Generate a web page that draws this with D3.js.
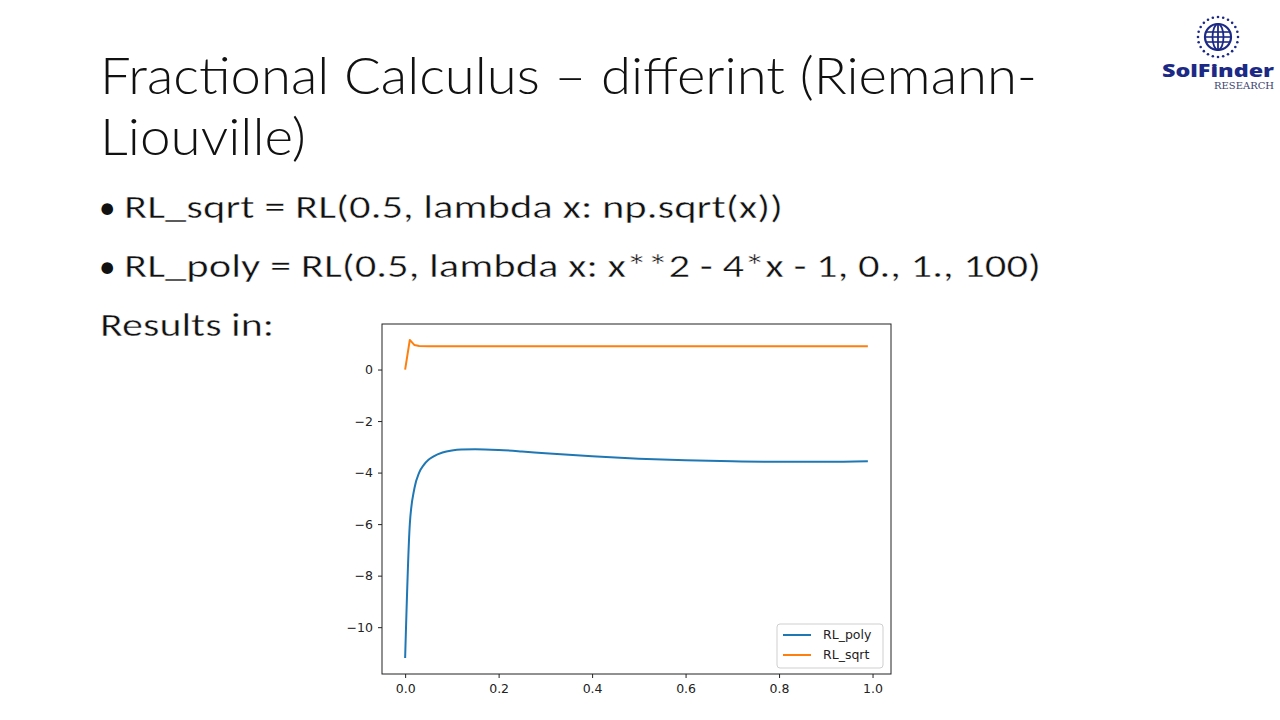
<!DOCTYPE html>
<html>
<head>
<meta charset="utf-8">
<script src="https://cdn.jsdelivr.net/npm/d3@7"></script>
<style>
  body { margin: 0; background: #fff; }
  svg { display: block; }
</style>
</head>
<body>
<svg width="1280" height="720"></svg>
<script>
// slide text
var titleLines = ["Fractional Calculus \u2013 differint (Riemann-", "Liouville)"];
var bullets = ["RL_sqrt = RL(0.5, lambda x: np.sqrt(x))", "RL_poly = RL(0.5, lambda x: x**2 - 4*x - 1, 0., 1., 100)"];
var resultsLabel = "Results in:";

// series
var polyX = [0, 0.01, 0.02, 0.03, 0.04, 0.05, 0.06, 0.08, 0.10, 0.12, 0.15, 0.20, 0.25, 0.30, 0.40, 0.50, 0.60, 0.70, 0.80, 0.90, 0.99];
var polyY = [-11.2, -6.0, -4.6, -4.0, -3.7, -3.5, -3.38, -3.22, -3.14, -3.1, -3.09, -3.12, -3.18, -3.25, -3.37, -3.46, -3.52, -3.56, -3.58, -3.58, -3.56];
var sqrtX = [0, 0.01, 0.02, 0.03, 0.05, 0.10, 0.30, 0.60, 0.99];
var sqrtY = [0, 1.15, 0.95, 0.915, 0.905, 0.9, 0.9, 0.9, 0.9];

var xTicks = [0, 0.2, 0.4, 0.6, 0.8, 1.0];
var yTicks = [0, -2, -4, -6, -8, -10];
var seriesNames = ["RL_poly", "RL_sqrt"];
var seriesColors = ["#1f77b4", "#ff7f0e"];

var svg = d3.select("svg");

/* ----------- slide text ----------- */
var body = "Calibri, Carlito, Lato, 'Open Sans', sans-serif";

svg.selectAll("text.title")
    .data(titleLines)
    .enter().append("text")
    .attr("class", "title")
    .attr("x", 100)
    .attr("y", (d, i) => 94 + i * 61)
    .attr("font-family", "'Lato Light', " + body)
    .attr("font-weight", 300)
    .attr("font-size", 52)
    .attr("fill", "#111")
    .attr("textLength", (d, i) => i == 0 ? 937 : 206)
    .attr("lengthAdjust", "spacingAndGlyphs")
    .text(d => d);

var bulletG = svg.selectAll("g.bullet")
    .data(bullets)
    .enter().append("g")
    .attr("class", "bullet")
    .attr("transform", (d, i) => "translate(0," + (218 + i * 59) + ")");

bulletG.append("text")
    .attr("x", 99)
    .attr("font-family", body)
    .attr("font-size", 33)
    .attr("fill", "#111")
    .text("\u2022");

bulletG.append("text")
    .attr("x", 124)
    .attr("font-family", body)
    .attr("font-size", 33)
    .attr("fill", "#111")
    .attr("stroke", "#fff")
    .attr("stroke-width", 0.4)
    .attr("textLength", (d, i) => i == 0 ? 659 : 917)
    .attr("lengthAdjust", "spacingAndGlyphs")
    .text(d => d);

svg.append("text")
    .attr("x", 100)
    .attr("y", 336)
    .attr("font-family", body)
    .attr("font-size", 33)
    .attr("fill", "#111")
    .attr("stroke", "#fff")
    .attr("stroke-width", 0.4)
    .attr("textLength", 174)
    .attr("lengthAdjust", "spacingAndGlyphs")
    .text(resultsLabel);

/* ----------- logo ----------- */
var logo = svg.append("g").attr("transform", "translate(1218,37)");
var navy = "#1c2a86";
d3.range(24).forEach(i => {
    var a = i / 24 * 2 * Math.PI;
    logo.append("circle")
        .attr("cx", 20 * Math.cos(a))
        .attr("cy", 20 * Math.sin(a))
        .attr("r", 1.3)
        .attr("fill", navy);
});
logo.append("circle").attr("r", 13).attr("fill", "none").attr("stroke", navy).attr("stroke-width", 2.2);
logo.append("ellipse").attr("rx", 5.5).attr("ry", 13).attr("fill", "none").attr("stroke", navy).attr("stroke-width", 1.8);
logo.append("line").attr("x1", 0).attr("x2", 0).attr("y1", -13).attr("y2", 13).attr("stroke", navy).attr("stroke-width", 1.8);
[-5, 0, 5].forEach(y => {
    var hw = Math.sqrt(169 - y * y);
    logo.append("line").attr("x1", -hw).attr("x2", hw).attr("y1", y).attr("y2", y)
        .attr("stroke", navy).attr("stroke-width", 1.6);
});
svg.append("text")
    .attr("x", 1218).attr("y", 77)
    .attr("text-anchor", "middle")
    .attr("font-family", "'Open Sans', sans-serif")
    .attr("font-weight", 800)
    .attr("font-size", 18)
    .attr("fill", navy)
    .attr("textLength", 112)
    .attr("lengthAdjust", "spacingAndGlyphs")
    .text("SolFinder");
svg.append("text")
    .attr("x", 1274).attr("y", 89)
    .attr("text-anchor", "end")
    .attr("font-family", "'DejaVu Serif', 'Liberation Serif', serif")
    .attr("font-size", 9)
    .attr("fill", "#3a4270")
    .attr("textLength", 60)
    .attr("lengthAdjust", "spacingAndGlyphs")
    .text("RESEARCH");

/* ----------- chart ----------- */
var plotLeft = 382, plotRight = 891, plotTop = 324, plotBottom = 674;

var x = d3.scaleLinear().domain([-0.0495, 1.0395]).range([plotLeft, plotRight]);
var allY = polyY.concat(sqrtY);
var yMin = d3.min(allY), yMax = d3.max(allY), pad = (yMax - yMin) * 0.05;
var y = d3.scaleLinear().domain([yMin - pad, yMax + pad]).range([plotBottom, plotTop]);

var tickFont = "'DejaVu Sans', sans-serif";

var xAxis = svg.append("g")
    .attr("transform", "translate(0," + plotBottom + ")")
    .call(d3.axisBottom(x).tickValues(xTicks).tickFormat(d3.format(".1f")).tickSize(4).tickPadding(6));
var yAxis = svg.append("g")
    .attr("transform", "translate(" + plotLeft + ",0)")
    .call(d3.axisLeft(y).tickValues(yTicks).tickFormat(d => d < 0 ? "\u2212" + Math.abs(d) : d).tickSize(4).tickPadding(5));

[xAxis, yAxis].forEach(a => {
    a.select(".domain").remove();
    a.selectAll("line").attr("stroke", "#222");
    a.selectAll("text").attr("font-family", tickFont).attr("font-size", 12.5).attr("fill", "#222");
});

svg.append("rect")
    .attr("x", plotLeft).attr("y", plotTop)
    .attr("width", plotRight - plotLeft).attr("height", plotBottom - plotTop)
    .attr("fill", "none").attr("stroke", "#222").attr("stroke-width", 1);

var smooth = d3.line().x(d => x(d[0])).y(d => y(d[1])).curve(d3.curveMonotoneX);
var straight = d3.line().x(d => x(d[0])).y(d => y(d[1]));

var series = [
    d3.zip(polyX, polyY),
    d3.zip(sqrtX, sqrtY)
];

svg.selectAll("path.series")
    .data(series)
    .enter().append("path")
    .attr("class", "series")
    .attr("fill", "none")
    .attr("stroke", (d, i) => seriesColors[i])
    .attr("stroke-width", 2)
    .attr("stroke-linejoin", "round")
    .attr("d", (d, i) => i == 0 ? smooth(d) : straight(d));

/* ----------- legend ----------- */
var legend = svg.append("g").attr("transform", "translate(777,624)");
legend.append("rect")
    .attr("width", 106).attr("height", 44)
    .attr("rx", 3)
    .attr("fill", "#fff").attr("fill-opacity", 0.8)
    .attr("stroke", "#cfcfcf");

var item = legend.selectAll("g.item")
    .data(seriesNames)
    .enter().append("g")
    .attr("class", "item")
    .attr("transform", (d, i) => "translate(0," + (11 + i * 20) + ")");
item.append("line")
    .attr("x1", 6).attr("x2", 34)
    .attr("stroke", (d, i) => seriesColors[i])
    .attr("stroke-width", 2);
item.append("text")
    .attr("x", 46).attr("dy", "0.35em")
    .attr("font-family", tickFont)
    .attr("font-size", 12.5)
    .attr("fill", "#222")
    .text(d => d);
</script>
</body>
</html>
